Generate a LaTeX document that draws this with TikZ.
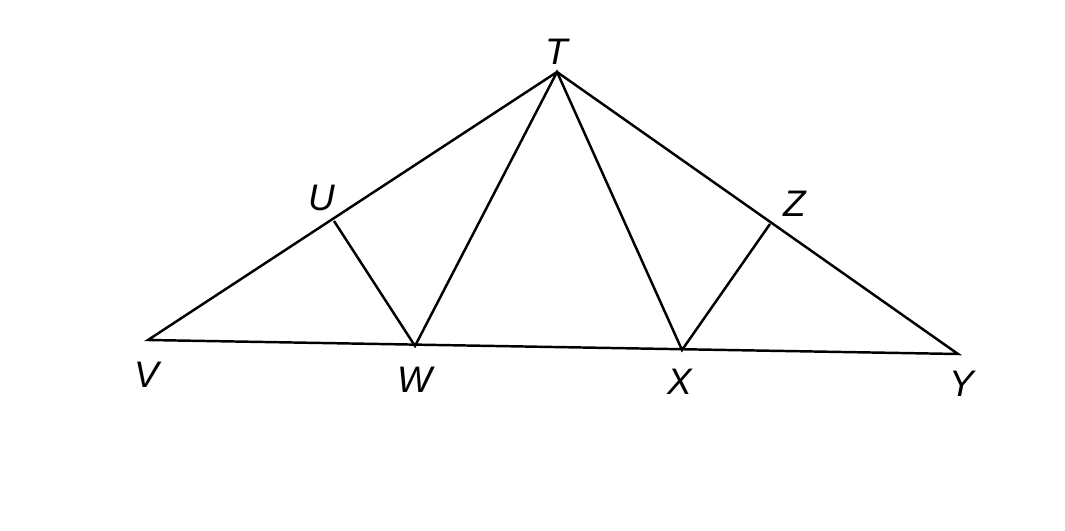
\documentclass[tikz,border=0pt]{standalone}
\usepackage{fontspec}
\setmainfont{Liberation Sans}
\begin{document}
\begin{tikzpicture}[x=0.01cm,y=-0.01cm,line width=0.7pt,
  lbl/.style={font=\itshape\fontsize{10.5}{12}\selectfont,inner sep=0pt}]
\useasboundingbox (0,0) rectangle (1065,531);
\coordinate (T) at (557,72);
\coordinate (V) at (148,340);
\coordinate (W) at (415,346);
\coordinate (X) at (682,350);
\coordinate (Y) at (958,354);
\coordinate (U) at (334,221);
\coordinate (Z) at (770,224);
\draw[line join=miter] (V) -- (T) -- (Y) -- cycle;
\draw (U) -- (W) -- (T) -- (X) -- (Z);
\node[lbl] (lT) at (557,52) {T};
\node[lbl] (lU) at (322,198) {U};
\node[lbl] (lZ) at (795,204) {Z};
\node[lbl] (lV) at (147,375) {V};
\node[lbl] (lW) at (415,380) {W};
\node[lbl] (lX) at (680,382) {X};
\node[lbl] (lY) at (962,384) {Y};
\end{tikzpicture}
\end{document}
